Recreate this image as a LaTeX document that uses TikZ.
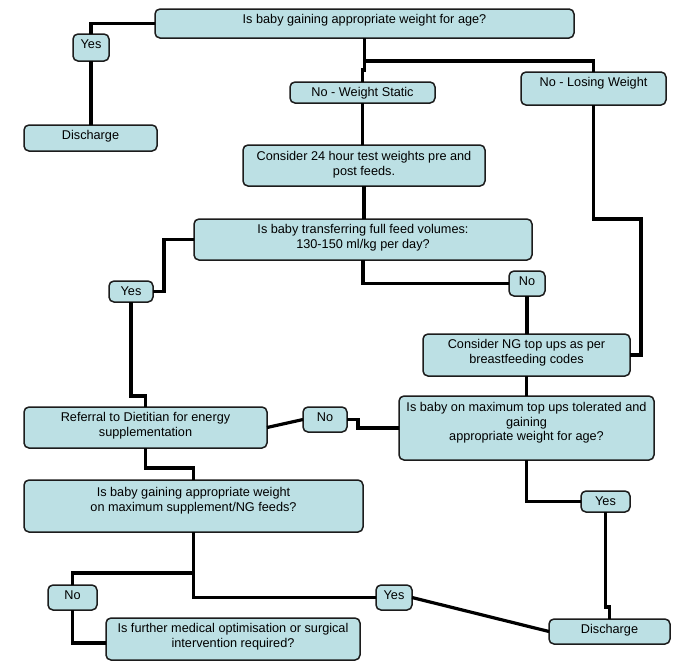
\documentclass[tikz,border=0pt]{standalone}
\usepackage{fontspec}
\setmainfont{Liberation Sans}
\definecolor{boxfill}{RGB}{188,224,228}
\definecolor{boxline}{RGB}{28,28,28}
\newcommand\bxt[4]{\parbox[t][#2pt][t]{#1pt}{\centering\hyphenpenalty=10000\exhyphenpenalty=10000\rule{0pt}{#3pt}#4}}
\begin{document}
\begin{tikzpicture}[x=1pt,y=-1pt,
  fbox/.style={draw=boxline, fill=boxfill, line width=1.5pt, rounded corners=5pt,
    inner sep=0pt, outer sep=0pt, anchor=north west,
    font=\fontsize{12.7}{14.5}\selectfont},
  conn/.style={draw=black, line width=3.2pt}]
\useasboundingbox (0,0) rectangle (700,670);
% boxes
\node[fbox] (top)    at (155,9)   {\bxt{419}{29}{14.5}{Is baby gaining appropriate weight for age?}};
\node[fbox] (yesA)   at (73,34)   {\bxt{36}{27}{14.5}{Yes}};
\node[fbox] (disA)   at (24,125)  {\bxt{133}{26}{14.5}{Discharge}};
\node[fbox] (static) at (290,82)  {\bxt{145}{21}{14}{No - Weight Static}};
\node[fbox] (lose)   at (521,72)  {\bxt{145}{33}{14}{No - Losing Weight}};
\node[fbox] (cfour)  at (243,145) {\bxt{242}{41}{15.5}{Consider 24 hour test weights pre and\\post feeds.}};
\node[fbox] (trans)  at (194,219) {\bxt{338}{41}{14.5}{Is baby transferring full feed volumes:\\130-150 ml/kg per day?}};
\node[fbox] (noA)    at (509,271) {\bxt{36}{25}{14}{No}};
\node[fbox] (yesB)   at (109,281) {\bxt{44}{21}{14}{Yes}};
\node[fbox] (ng)     at (423,334) {\bxt{207}{42}{14.5}{Consider NG top ups as per\\breastfeeding codes}};
\node[fbox] (maxq)   at (399,396) {\bxt{255}{64}{15.5}{Is baby on maximum top ups tolerated and\\gaining\\appropriate weight for age?}};
\node[fbox] (ref)    at (24,407)  {\bxt{243}{41}{14.5}{Referral to Dietitian for energy\\supplementation}};
\node[fbox] (noC)    at (303,407) {\bxt{44}{25}{14}{No}};
\node[fbox] (gain)   at (24,480)  {\bxt{339}{52}{16.5}{Is baby gaining appropriate weight\\on maximum supplement/NG feeds?}};
\node[fbox] (yesE)   at (581,491) {\bxt{49}{21}{14}{Yes}};
\node[fbox] (noD)    at (48,585)  {\bxt{49}{25}{14.5}{No}};
\node[fbox] (yesD)   at (376,585) {\bxt{36}{25}{14.5}{Yes}};
\node[fbox] (disB)   at (549,619) {\bxt{121}{25}{14}{Discharge}};
\node[fbox] (further) at (106,618) {\bxt{254}{42}{14.5}{Is further medical optimisation or surgical\\intervention required?}};
% junctions
\coordinate (j1) at (364.5,61);
\coordinate (j2) at (193.5,573);
% connectors
\draw[conn] (top.west) -| (yesA.north);
\draw[conn] (yesA.south) -- (yesA.south |- disA.north);
\draw[conn] (top.south) -- (j1) -| (lose.north);
\draw[conn] (j1) -- ++(0,9) -| (static.north);
\draw[conn] (static.south) -- (static.south |- cfour.north);
\draw[conn] (cfour.south) -- (cfour.south |- trans.north);
\draw[conn] (trans.south) |- (noA.west);
\draw[conn] (noA.south) -- (noA.south |- ng.north);
\draw[conn] (lose.south) |- (641,219) |- (ng.east);
\draw[conn] (trans.west) -- ++(-30,0) |- (yesB.east);
\draw[conn] (yesB.south) -- ++(0,94) -| (ref.north);
\draw[conn] (ng.south) -- (ng.south |- maxq.north);
\draw[conn] (maxq.west) -- ++(-41,0) |- (noC.east);
\draw[conn] (noC.west) -- (ref.east);
\draw[conn] (ref.south) -- ++(0,20) -| (gain.north);
\draw[conn] (gain.south) |- (yesD.west);
\draw[conn] (j2) -| (noD.north);
\draw[conn] (noD.south) |- ([yshift=-4pt]further.west);
\draw[conn] (yesD.east) -- (disB.west);
\draw[conn] (maxq.south) |- (yesE.west);
\draw[conn] (yesE.south) -- ++(0,95) -| (disB.north);
\end{tikzpicture}
\end{document}
